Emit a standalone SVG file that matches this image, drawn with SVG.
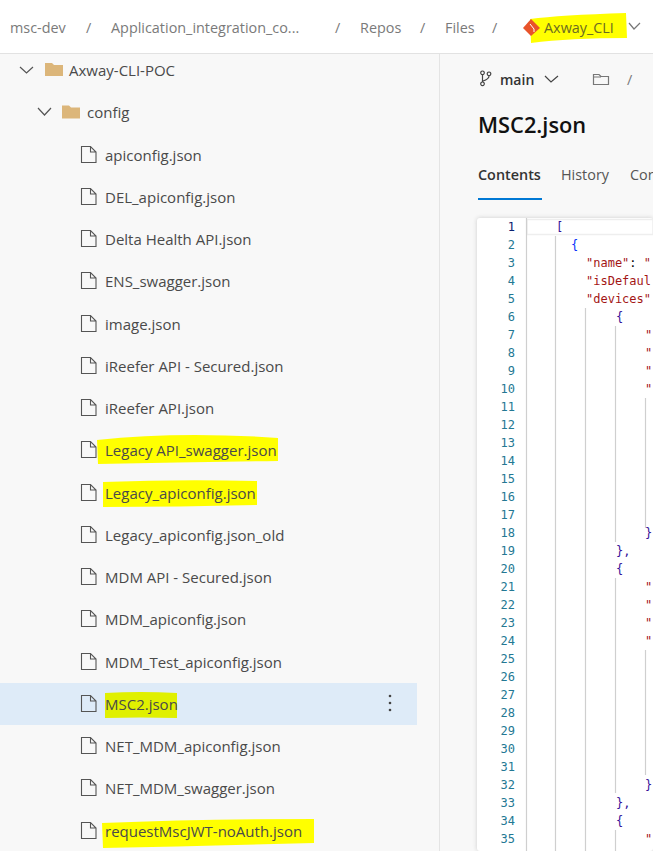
<svg xmlns="http://www.w3.org/2000/svg" width="653" height="851" viewBox="0 0 653 851">
<style>
.t{font-family:"Open Sans","Noto Sans","Liberation Sans",sans-serif;font-size:15px;fill:#4a4a4a}
.c{font-family:"Open Sans","Noto Sans","Liberation Sans",sans-serif;font-size:14.4px;fill:#7a7a7a}
.n{font-family:"DejaVu Sans Mono","Liberation Mono",monospace;font-size:12px;fill:#237893;text-anchor:end}
.m{font-family:"DejaVu Sans Mono","Liberation Mono",monospace;font-size:12px}
.f{fill:none;stroke:#555;stroke-width:1.1}
.g{fill:none;stroke:#555;stroke-width:1.2}
.v{stroke:#cfcfcf;stroke-width:1.2}
.y{fill:#ffff00}
.fo{fill:#dcb67a}
</style>
<defs>
<g id="doc"><path class="f" d="M.5 .5H9.5L15 6V16.500H.5Z M9.5 .5V6H15"/></g>
<g id="folder"><path class="fo" d="M0 0H7L9 2H18V13H0Z"/></g>
</defs>
<rect width="653" height="851" fill="#f8f8f8"/>
<g id="header">
<rect width="653" height="53" fill="#fff"/>
<rect y="53" width="653" height="1" fill="#e2e2e2"/>
<text class="c" x="10" y="33">msc-dev</text>
<text class="c" x="86" y="33">/</text>
<text class="c" x="111" y="33">Application_integration_co...</text>
<text class="c" x="335" y="33">/</text>
<text class="c" x="360" y="33">Repos</text>
<text class="c" x="420" y="33">/</text>
<text class="c" x="445" y="33">Files</text>
<text class="c" x="492" y="33">/</text>
<path class="y" d="M530 19Q560 15 626 13L627 38Q570 38 531 43Z"/>
<path d="M531 19L540 28L531 36L523 28Z" fill="#e8532a"/>
<path d="M530 24L534 29V32" fill="none" stroke="#fff" stroke-width="1"/>
<text class="c" x="544" y="33" style="fill:#6b6b20">Axway_CLI</text>
<path class="g" d="M629 23L634 29L640 23" style="stroke:#777"/>
</g>
<g id="code-panel">
<rect x="440" y="54" width="213" height="797" fill="#f8f8f8"/>
<rect x="439" y="54" width="1" height="797" fill="#e4e4e4"/>
<rect x="477" y="218" width="176" height="633" rx="3" fill="#fff" style="filter:drop-shadow(0 0 2px #ccc)"/>
<rect x="527" y="219.500" width="126" height="15" fill="#fff" stroke="#eee" stroke-width="1.500"/>
<path class="g" d="M482.500 71a1.800 1.800 0 1 0 .01 0M482.500 82a1.800 1.800 0 1 0 .01 0M482.500 75V82M489 72a1.800 1.800 0 1 0 .01 0M489 76Q489 79 483 81" style="stroke:#444"/>
<text x="500" y="85" style="font-family:'Open Sans',sans-serif;font-size:14px;font-weight:600;fill:#333">main</text>
<path class="g" d="M545 76L551 82L558 76" style="stroke:#444"/>
<path class="g" d="M593.500 74.500H599L601 76.500H608.500V84.500H593.500Z M593.500 77H601" style="stroke:#777"/>
<text class="c" x="627" y="85">/</text>
<text x="478" y="133" style="font-family:'Open Sans',sans-serif;font-size:21.800px;font-weight:600;fill:#111">MSC2.json</text>
<text x="478" y="180" style="font-family:'Open Sans',sans-serif;font-size:14.4px;font-weight:600;fill:#333">Contents</text>
<text class="c" x="561" y="180" style="fill:#555">History</text>
<text class="c" x="630" y="180" style="fill:#555">Cor</text>
<rect x="478" y="198" width="64" height="2" fill="#0078d4"/>
<g class="v">
<line x1="526.500" y1="218" x2="526.500" y2="851"/>
<line x1="555.500" y1="236" x2="555.500" y2="851"/>
<line x1="585.500" y1="308" x2="585.500" y2="851"/>
<line x1="615.500" y1="326" x2="615.500" y2="542"/>
<line x1="615.500" y1="578" x2="615.500" y2="793"/>
<line x1="615.500" y1="830" x2="615.500" y2="851"/>
<line x1="645.500" y1="398" x2="645.500" y2="528"/>
<line x1="645.500" y1="650" x2="645.500" y2="775"/>
</g>
<g id="gutter">
<text class="n" x="515" y="231" style="fill:#0b216f">1</text><text class="n" x="515" y="249">2</text><text class="n" x="515" y="267">3</text><text class="n" x="515" y="285">4</text><text class="n" x="515" y="303">5</text><text class="n" x="515" y="321">6</text><text class="n" x="515" y="339">7</text><text class="n" x="515" y="357">8</text><text class="n" x="515" y="375">9</text><text class="n" x="515" y="393">10</text><text class="n" x="515" y="411">11</text><text class="n" x="515" y="429">12</text><text class="n" x="515" y="447">13</text><text class="n" x="515" y="465">14</text><text class="n" x="515" y="483">15</text><text class="n" x="515" y="501">16</text><text class="n" x="515" y="519">17</text><text class="n" x="515" y="537">18</text><text class="n" x="515" y="555">19</text><text class="n" x="515" y="573">20</text><text class="n" x="515" y="591">21</text><text class="n" x="515" y="609">22</text><text class="n" x="515" y="627">23</text><text class="n" x="515" y="645">24</text><text class="n" x="515" y="663">25</text><text class="n" x="515" y="681">26</text><text class="n" x="515" y="699">27</text><text class="n" x="515" y="717">28</text><text class="n" x="515" y="735">29</text><text class="n" x="515" y="753">30</text><text class="n" x="515" y="771">31</text><text class="n" x="515" y="789">32</text><text class="n" x="515" y="807">33</text><text class="n" x="515" y="825">34</text><text class="n" x="515" y="843">35</text>
</g>
<g id="source">
<text class="m" x="556" y="231" fill="#319">[</text>
<text class="m" x="571" y="249" fill="#0431fa">{</text>
<text class="m" x="586" y="267" fill="#a31515">"name"<tspan fill="#000">:</tspan> "</text>
<text class="m" x="586" y="285" fill="#a31515">"isDefaul</text>
<text class="m" x="586" y="303" fill="#a31515">"devices"</text>
<text class="m" x="616" y="321" fill="#319">{</text>
<text class="m" x="645" y="339" fill="#a31515">"</text><text class="m" x="645" y="357" fill="#a31515">"</text><text class="m" x="645" y="375" fill="#a31515">"</text><text class="m" x="645" y="393" fill="#a31515">"</text>
<text class="m" x="645" y="537" fill="#319">}</text>
<text class="m" x="616" y="555" fill="#319">},</text>
<text class="m" x="616" y="573" fill="#319">{</text>
<text class="m" x="645" y="591" fill="#a31515">"</text><text class="m" x="645" y="609" fill="#a31515">"</text><text class="m" x="645" y="627" fill="#a31515">"</text><text class="m" x="645" y="645" fill="#a31515">"</text>
<text class="m" x="645" y="789" fill="#319">}</text>
<text class="m" x="616" y="807" fill="#319">},</text>
<text class="m" x="616" y="825" fill="#319">{</text>
<text class="m" x="645" y="843" fill="#a31515">"</text>
</g>
</g>
<g id="tree">
<g id="node-root"><path class="g" d="M20 67L26.500 73L33 67"/><use href="#folder" x="45" y="63"/><text class="t" x="69" y="76">Axway-CLI-POC</text></g>
<g id="node-config"><path class="g" d="M38 108L44.500 115L51 108"/><use href="#folder" x="62" y="105.500"/><text class="t" x="87" y="118">config</text></g>
<rect x="0" y="683" width="417" height="42" fill="#deebf8"/>
<g id="highlights">
<path class="y" d="M97 440Q180 431 278 438L278 461Q190 462 98 464Z"/>
<path class="y" d="M103 482Q180 479 257 481L257 505Q180 507 103 507Z"/>
<path d="M105 693Q140 691 177 693L177 718Q140 717 105 718Z" fill="#e0f000"/>
<path class="y" d="M102 823Q200 819 314 819L314 843Q200 846 103 848Z"/>
</g>
<g id="f1"><use href="#doc" x="81" y="146"/><text class="t" x="105" y="161">apiconfig.json</text></g>
<g id="f2"><use href="#doc" x="81" y="188"/><text class="t" x="105" y="203">DEL_apiconfig.json</text></g>
<g id="f3"><use href="#doc" x="81" y="230"/><text class="t" x="105" y="245">Delta Health API.json</text></g>
<g id="f4"><use href="#doc" x="81" y="272"/><text class="t" x="105" y="287">ENS_swagger.json</text></g>
<g id="f5"><use href="#doc" x="81" y="315"/><text class="t" x="105" y="330">image.json</text></g>
<g id="f6"><use href="#doc" x="81" y="357"/><text class="t" x="105" y="372">iReefer API - Secured.json</text></g>
<g id="f7"><use href="#doc" x="81" y="399"/><text class="t" x="105" y="414">iReefer API.json</text></g>
<g id="f8"><use href="#doc" x="81" y="441"/><text class="t" x="105" y="456">Legacy API_swagger.json</text></g>
<g id="f9"><use href="#doc" x="81" y="484"/><text class="t" x="105" y="499">Legacy_apiconfig.json</text></g>
<g id="f10"><use href="#doc" x="81" y="526"/><text class="t" x="105" y="541">Legacy_apiconfig.json_old</text></g>
<g id="f11"><use href="#doc" x="81" y="568"/><text class="t" x="105" y="583">MDM API - Secured.json</text></g>
<g id="f12"><use href="#doc" x="81" y="610"/><text class="t" x="105" y="625">MDM_apiconfig.json</text></g>
<g id="f13"><use href="#doc" x="81" y="653"/><text class="t" x="105" y="668">MDM_Test_apiconfig.json</text></g>
<g id="f14"><use href="#doc" x="81" y="695"/><text class="t" x="105" y="710">MSC2.json</text>
<circle cx="390" cy="696" r="1.300" fill="#444"/><circle cx="390" cy="703" r="1.300" fill="#444"/><circle cx="390" cy="710" r="1.300" fill="#444"/></g>
<g id="f15"><use href="#doc" x="81" y="737"/><text class="t" x="105" y="752">NET_MDM_apiconfig.json</text></g>
<g id="f16"><use href="#doc" x="81" y="779"/><text class="t" x="105" y="794">NET_MDM_swagger.json</text></g>
<g id="f17"><use href="#doc" x="81" y="822"/><text class="t" x="105" y="837">requestMscJWT-noAuth.json</text></g>
</g>
</svg>
